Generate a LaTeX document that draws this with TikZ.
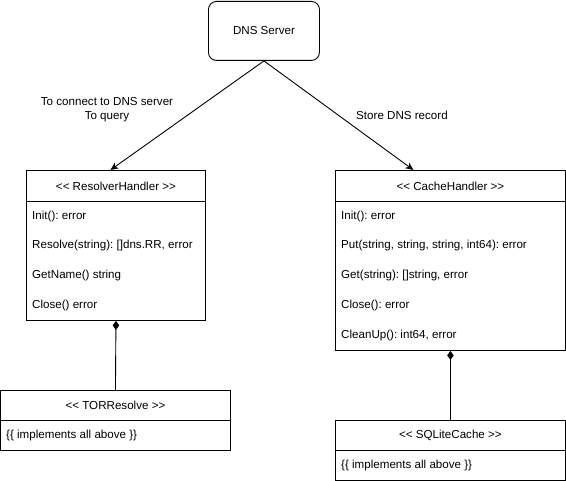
\documentclass[tikz,border=0pt]{standalone}
\usepackage{fontspec}
\setmainfont{Liberation Sans}[Ligatures=NoCommon]
\usetikzlibrary{arrows.meta,calc}
\frenchspacing
\tikzset{
  box/.style={draw=black, line width=0.9pt, fill=white, inner sep=0pt, anchor=north west},
  txt/.style={inner sep=0pt, font=\fontsize{11.6}{14}\selectfont},
  item/.style={txt, anchor=west},
  arr/.style={draw=black, line width=0.9pt, -{Stealth[length=8pt,width=7pt,inset=2.5pt]}},
  comp/.style={draw=black, line width=0.9pt, -{Diamond[length=9pt,width=6.5pt,fill=black]}},
}
\begin{document}
\begin{tikzpicture}[x=1pt,y=-1pt]
\useasboundingbox[fill=white] (0,0) rectangle (566,481);
% DNS server
\node[box, rounded corners=8pt, minimum width=111pt, minimum height=59pt, txt] (dns) at (208,1) {};
\node[txt] (dnst) at (dns.center) {DNS Server};
% ResolverHandler
\node[box, minimum width=179pt, minimum height=31pt] (rh) at (26,170) {};
\node[txt] (rht) at (rh.center) {{<}{<} ResolverHandler {>}{>}};
\node[box, minimum width=179pt, minimum height=119pt] (rhb) at (26,201) {};
\node[item] (r1) at (32,216) {Init(): error};
\node[item] (r2) at (32,246) {Resolve(string): []dns.RR, error};
\node[item] (r3) at (32,276) {GetName() string};
\node[item] (r4) at (32,306) {Close() error};
% TORResolve
\node[box, minimum width=230pt, minimum height=30pt] (tor) at (0,390) {};
\node[txt] (tort) at (tor.center) {{<}{<} TORResolve {>}{>}};
\node[box, minimum width=230pt, minimum height=30pt] (torb) at (0,420) {};
\node[item] (t1) at (6,436) {\{\{ implements all above \}\}};
% CacheHandler
\node[box, minimum width=230pt, minimum height=31pt] (ch) at (335,170) {};
\node[txt] (cht) at (ch.center) {{<}{<} CacheHandler {>}{>}};
\node[box, minimum width=230pt, minimum height=149pt] (chb) at (335,201) {};
\node[item] (c1) at (341,216) {Init(): error};
\node[item] (c2) at (341,246) {Put(string, string, string, int64): error};
\node[item] (c3) at (341,276) {Get(string): []string, error};
\node[item] (c4) at (341,306) {Close(): error};
\node[item] (c5) at (341,336) {CleanUp(): int64, error};
% SQLiteCache
\node[box, minimum width=230pt, minimum height=30pt] (sq) at (335,420) {};
\node[txt] (sqt) at (sq.center) {{<}{<} SQLiteCache {>}{>}};
\node[box, minimum width=230pt, minimum height=30pt] (sqb) at (335,450) {};
\node[item] (s1) at (341,466) {\{\{ implements all above \}\}};
% labels
\node[txt, align=center] (l1) at (107,110) {To connect to DNS server\\To query};
\node[txt] (l2) at (402,115) {Store DNS record};
% connectors
\coordinate (rtip) at ($(rh.north)+(-5.5,0)$);
\coordinate (ctip) at ($(ch.north)+(-37,0)$);
\draw[arr] (dns.south) -- (rtip);
\draw[arr] (dns.south) -- (ctip);
\draw[comp] (tor.north) -- (rhb.south);
\draw[comp] (sq.north) -- (chb.south);
\end{tikzpicture}
\end{document}
